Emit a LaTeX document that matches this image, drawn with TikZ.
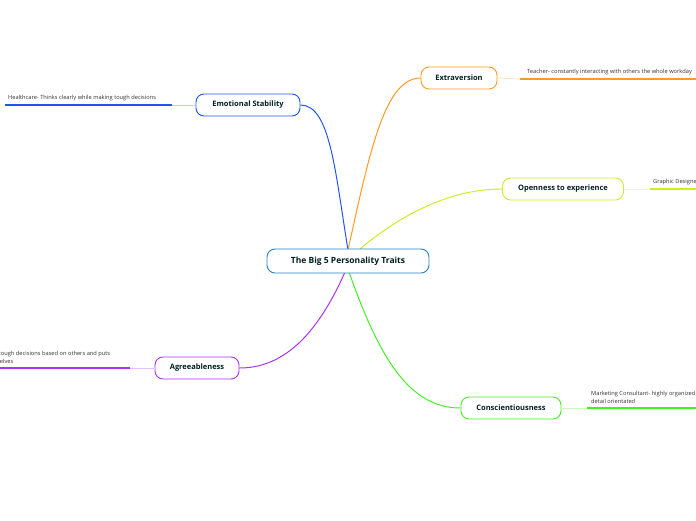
\documentclass[tikz,border=0pt]{standalone}
\usepackage{fontspec}
\setmainfont{Open Sans}
\begin{document}
\begin{tikzpicture}[x=1pt,y=-1pt,
  topic/.style={draw=#1,line width=0.9pt,rounded corners=8pt,fill=white,font=\bfseries\fontsize{7.5}{9}\selectfont,text=black!65!teal!70!black,minimum height=22pt,inner xsep=6pt},
  leaf/.style={font=\fontsize{5.7}{8}\selectfont,text=black!80,anchor=south west,inner sep=0pt,align=left},
  br/.style={draw=#1,line width=1pt},
  thin/.style={draw=#1!30,line width=0.8pt},
  thick/.style={draw=#1,line width=1.8pt}]
\useasboundingbox (0,0) rectangle (696,520);
\clip (0,0) rectangle (696,520);
\definecolor{cb}{HTML}{2255EE}
\definecolor{co}{HTML}{FF9922}
\definecolor{cy}{HTML}{CCEE22}
\definecolor{cg}{HTML}{44EE22}
\definecolor{cp}{HTML}{AA33EE}
\definecolor{cc}{HTML}{2A7FC0}
\coordinate (c1) at (348,250);
\coordinate (c2) at (360,249);
\coordinate (c3) at (349,272);
\coordinate (c4) at (345,272);
\node[topic=cb,minimum width=104pt] (es) at (248,105) {Emotional Stability};
\node[topic=co,minimum width=76pt] (ex) at (459,78) {Extraversion};
\node[topic=cy,minimum width=121pt] (op) at (563,189) {Openness to experience};
\node[topic=cg,minimum width=100pt] (co) at (511,408) {Conscientiousness};
\node[topic=cp,minimum width=84pt] (ag) at (197,368) {Agreeableness};
\draw[br=cb] (c1) .. controls (335,170) and (330,105) .. (es.east);
\draw[br=co] (c1) .. controls (370,150) and (385,78) .. (ex.west);
\draw[br=cy] (c2) .. controls (400,215) and (450,189) .. (op.west);
\draw[br=cg] (c3) .. controls (380,360) and (410,408) .. (co.west);
\draw[br=cp] (c4) .. controls (315,340) and (280,368) .. (ag.east);
\node[topic=cc,minimum width=162pt,minimum height=24pt,font=\bfseries\fontsize{8.5}{10}\selectfont] (root) at (348,261) {The Big 5 Personality Traits};
% leaves
\coordinate (e1) at (172,105); \coordinate (e2) at (5,105);
\draw[thin=cb] (es.west) -- (e1); \draw[thick=cb] (e1) -- (e2);
\node[leaf] (et) at (8,101) {Healthcare- Thinks clearly while making tough decisions};
\coordinate (x1) at (520,79); \coordinate (x2) at (700,79);
\draw[thin=co] (ex.east) -- (x1); \draw[thick=co] (x1) -- (x2);
\node[leaf] (xt) at (527,75) {Teacher- constantly interacting with others the whole workday};
\coordinate (o1) at (650,189); \coordinate (o2) at (700,189);
\draw[thin=cy] (op.east) -- (o1); \draw[thick=cy] (o1) -- (o2);
\node[leaf] (ot) at (653,185) {Graphic Designer};
\coordinate (g1) at (587,408); \coordinate (g2) at (700,408);
\draw[thin=cg] (co.east) -- (g1); \draw[thick=cg] (g1) -- (g2);
\node[leaf] (gt) at (591,404) {Marketing Consultant- highly organized and\\detail orientated};
\coordinate (p1) at (130,368); \coordinate (p2) at (-5,368);
\draw[thin=cp] (ag.west) -- (p1); \draw[thick=cp] (p1) -- (p2);
\node[leaf] (pt) at (-17,364) {aking tough decisions based on others and puts\\themselves};
\end{tikzpicture}
\end{document}
